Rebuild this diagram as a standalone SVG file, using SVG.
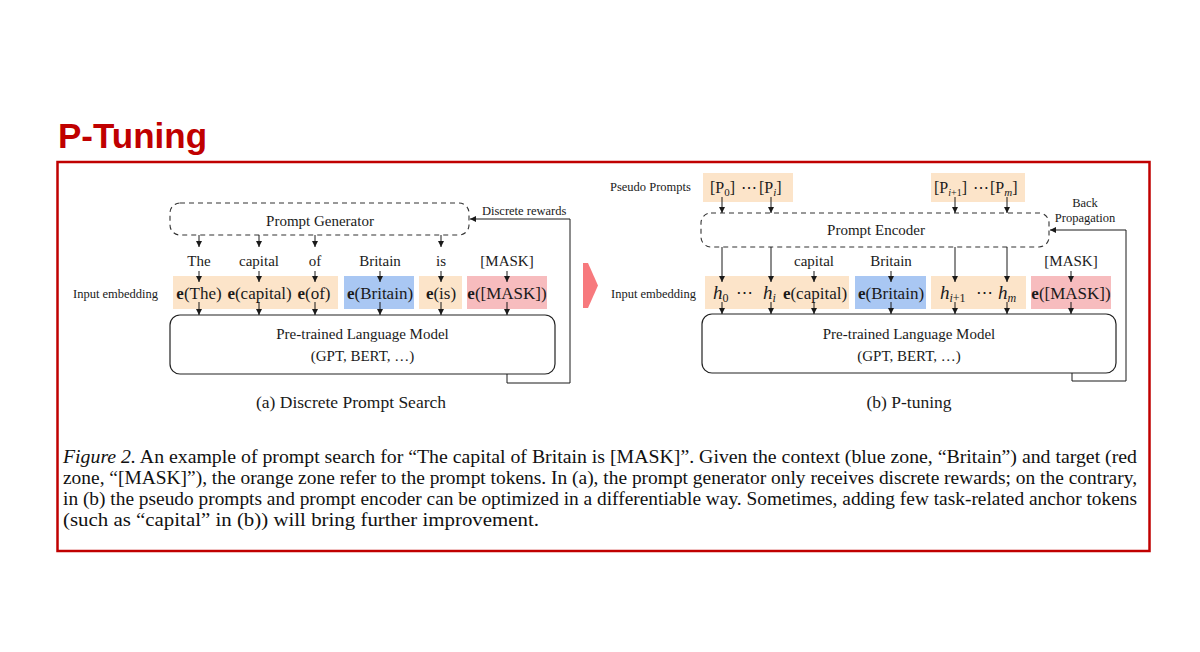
<svg xmlns="http://www.w3.org/2000/svg" width="1200" height="652" viewBox="0 0 1200 652">
<defs>
<marker id="ah" markerUnits="userSpaceOnUse" markerWidth="7" markerHeight="7" refX="6" refY="3" orient="auto">
<path d="M0,0 L6,3 L0,6 z" fill="#1a1a1a"/>
</marker>
<style>
.t{font-family:"Liberation Serif","Times New Roman",serif;fill:#1a1a1a}
.lbl{font-size:12.5px}
.w{font-size:15px;text-anchor:middle}
.em{font-size:17px;text-anchor:middle}
.big{font-size:15px;text-anchor:middle}
.cap{font-size:17.5px;text-anchor:middle}
.ar{stroke:#1a1a1a;stroke-width:1;fill:none;marker-end:url(#ah)}
.dash{fill:#fff;stroke:#333;stroke-width:1.1;stroke-dasharray:5 4}
.box{fill:#fff;stroke:#222;stroke-width:1.2}
.or{fill:#fce4c9}
.bl{fill:#a9c7f3}
.rd{fill:#f7bcbe}
.h{font-size:19px;font-style:italic}
.sub{font-size:12px;font-style:normal}
.it{font-style:italic}
.caption{font-family:"Liberation Serif","Times New Roman",serif;font-size:19.5px;fill:#111}
</style>
</defs>
<rect width="1200" height="652" fill="#fff"/>
<g id="title">
<text x="58" y="148" font-family="Liberation Sans,Arial,sans-serif" font-weight="bold" font-size="35" fill="#c00000">P-Tuning</text>
</g>
<g id="frame">
<rect x="57.5" y="162" width="1092" height="389" fill="none" stroke="#c00000" stroke-width="2.5"/>
</g>

<g id="a-labels">
<text class="t lbl" x="73" y="298">Input embedding</text>
<text class="t lbl" x="482" y="215">Discrete rewards</text>
<text class="t cap" x="351" y="408">(a) Discrete Prompt Search</text>
</g>
<g id="a-generator">
<rect class="dash" x="170" y="203" width="299" height="32" rx="10"/>
<text class="t big" x="320" y="226">Prompt Generator</text>
</g>
<g id="a-words">
<text class="t w" x="199" y="266">The</text>
<text class="t w" x="259" y="266">capital</text>
<text class="t w" x="315" y="266">of</text>
<text class="t w" x="380" y="266">Britain</text>
<text class="t w" x="441" y="266">is</text>
<text class="t w" x="507" y="266">[MASK]</text>
</g>
<g id="a-embeddings">
<rect class="or" x="173" y="276" width="165" height="33"/>
<rect class="bl" x="344" y="276" width="70" height="33"/>
<rect class="or" x="419" y="276" width="43" height="33"/>
<rect class="rd" x="467" y="276" width="80" height="33"/>
<text class="t em" x="199" y="299"><tspan font-weight="bold">e</tspan>(The)</text>
<text class="t em" x="259.5" y="299"><tspan font-weight="bold">e</tspan>(capital)</text>
<text class="t em" x="314" y="299"><tspan font-weight="bold">e</tspan>(of)</text>
<text class="t em" x="380" y="299"><tspan font-weight="bold">e</tspan>(Britain)</text>
<text class="t em" x="441" y="299"><tspan font-weight="bold">e</tspan>(is)</text>
<text class="t em" x="507" y="299"><tspan font-weight="bold">e</tspan>([MASK])</text>
</g>
<g id="a-lm">
<rect class="box" x="170" y="315" width="385" height="59" rx="10"/>
<text class="t big" x="362.5" y="339">Pre-trained Language Model</text>
<text class="t big" x="362.5" y="361">(GPT, BERT, …)</text>
</g>

<g id="pink-arrow">
<path d="M583,263 L588,263 L598,285.5 L588,308 L583,308 z" fill="#f7797d"/>
</g>

<g id="b-labels">
<text class="t lbl" x="610" y="191">Pseudo Prompts</text>
<text class="t lbl" x="611" y="298">Input embedding</text>
<text class="t lbl" x="1085" y="207" text-anchor="middle">Back</text>
<text class="t lbl" x="1085" y="222" text-anchor="middle">Propagation</text>
<text class="t cap" x="909" y="408">(b) P-tuning</text>
</g>
<g id="b-prompts">
<rect class="or" x="703" y="173" width="90" height="29"/>
<rect class="or" x="931" y="173" width="94" height="29"/>
<text class="t" font-size="16" x="710" y="193">[P<tspan font-size="11" dy="3">0</tspan><tspan dy="-3">]</tspan></text>
<text class="t" font-size="16" x="741" y="193">⋯</text>
<text class="t" font-size="16" x="759" y="193">[P<tspan class="it" font-size="11" dy="3">i</tspan><tspan dy="-3">]</tspan></text>
<text class="t" font-size="16" x="934" y="193">[P<tspan font-size="10" dy="3"><tspan class="it">i</tspan>+1</tspan><tspan dy="-3">]</tspan></text>
<text class="t" font-size="16" x="973" y="193">⋯</text>
<text class="t" font-size="16" x="990" y="193">[P<tspan class="it" font-size="11" dy="3">m</tspan><tspan dy="-3">]</tspan></text>
</g>
<g id="b-encoder">
<rect class="dash" x="701" y="213" width="348" height="34" rx="10"/>
<text class="t big" x="876" y="235">Prompt Encoder</text>
</g>
<g id="b-words">
<text class="t w" x="814" y="266">capital</text>
<text class="t w" x="891" y="266">Britain</text>
<text class="t w" x="1071" y="266">[MASK]</text>
</g>
<g id="b-embeddings">
<rect class="or" x="705" y="276" width="144" height="33"/>
<rect class="bl" x="855" y="276" width="71" height="33"/>
<rect class="or" x="931" y="276" width="95" height="33"/>
<rect class="rd" x="1031" y="276" width="80" height="33"/>
<text class="t h" x="713" y="299">h<tspan class="sub" dy="3">0</tspan></text>
<text class="t" font-size="17" x="736" y="298">⋯</text>
<text class="t h" x="763" y="299">h<tspan class="sub" style="font-style:italic" dy="3">i</tspan></text>
<text class="t em" x="815" y="299"><tspan font-weight="bold">e</tspan>(capital)</text>
<text class="t em" x="891" y="299"><tspan font-weight="bold">e</tspan>(Britain)</text>
<text class="t h" x="940" y="299">h<tspan class="sub" dy="3"><tspan style="font-style:italic">i</tspan>+1</tspan></text>
<text class="t" font-size="17" x="976" y="298">⋯</text>
<text class="t h" x="998" y="299">h<tspan class="sub" style="font-style:italic" dy="3">m</tspan></text>
<text class="t em" x="1071" y="299"><tspan font-weight="bold">e</tspan>([MASK])</text>
</g>
<g id="b-lm">
<rect class="box" x="702" y="314" width="414" height="59" rx="10"/>
<text class="t big" x="909" y="339">Pre-trained Language Model</text>
<text class="t big" x="909" y="361">(GPT, BERT, …)</text>
</g>

<g id="connectors">
<line class="ar" x1="199" y1="235" x2="199" y2="247"/>
<line class="ar" x1="259" y1="235" x2="259" y2="247"/>
<line class="ar" x1="315" y1="235" x2="315" y2="247"/>
<line class="ar" x1="441" y1="235" x2="441" y2="247"/>
<line class="ar" x1="199" y1="271" x2="199" y2="282"/>
<line class="ar" x1="259" y1="271" x2="259" y2="282"/>
<line class="ar" x1="315" y1="271" x2="315" y2="282"/>
<line class="ar" x1="380" y1="271" x2="380" y2="282"/>
<line class="ar" x1="441" y1="271" x2="441" y2="282"/>
<line class="ar" x1="507" y1="271" x2="507" y2="282"/>
<line class="ar" x1="199" y1="302" x2="199" y2="315"/>
<line class="ar" x1="259" y1="302" x2="259" y2="315"/>
<line class="ar" x1="315" y1="302" x2="315" y2="315"/>
<line class="ar" x1="380" y1="302" x2="380" y2="315"/>
<line class="ar" x1="441" y1="302" x2="441" y2="315"/>
<line class="ar" x1="507" y1="302" x2="507" y2="315"/>
<path class="ar" d="M507,374 L507,383 L570,383 L570,219 L470,219"/>
<line class="ar" x1="722" y1="197" x2="722" y2="213"/>
<line class="ar" x1="771" y1="197" x2="771" y2="213"/>
<line class="ar" x1="955" y1="197" x2="955" y2="213"/>
<line class="ar" x1="1007" y1="197" x2="1007" y2="213"/>
<line class="ar" x1="722" y1="247" x2="722" y2="282"/>
<line class="ar" x1="771" y1="247" x2="771" y2="282"/>
<line class="ar" x1="955" y1="247" x2="955" y2="282"/>
<line class="ar" x1="1007" y1="247" x2="1007" y2="282"/>
<line class="ar" x1="814" y1="271" x2="814" y2="282"/>
<line class="ar" x1="891" y1="271" x2="891" y2="282"/>
<line class="ar" x1="1071" y1="271" x2="1071" y2="282"/>
<line class="ar" x1="722" y1="302" x2="722" y2="314"/>
<line class="ar" x1="771" y1="302" x2="771" y2="314"/>
<line class="ar" x1="814" y1="302" x2="814" y2="314"/>
<line class="ar" x1="891" y1="302" x2="891" y2="314"/>
<line class="ar" x1="955" y1="302" x2="955" y2="314"/>
<line class="ar" x1="1007" y1="302" x2="1007" y2="314"/>
<line class="ar" x1="1071" y1="302" x2="1071" y2="314"/>
<path class="ar" d="M1072,373 L1072,381 L1126,381 L1126,230 L1050,230"/>
</g>

<g id="caption">
<text class="caption" x="63" y="463" textLength="1074" lengthAdjust="spacingAndGlyphs"><tspan class="it">Figure 2.</tspan> An example of prompt search for “The capital of Britain is [MASK]”. Given the context (blue zone, “Britain”) and target (red</text>
<text class="caption" x="63" y="484" textLength="1074" lengthAdjust="spacingAndGlyphs">zone, “[MASK]”), the orange zone refer to the prompt tokens. In (a), the prompt generator only receives discrete rewards; on the contrary,</text>
<text class="caption" x="63" y="505" textLength="1074" lengthAdjust="spacingAndGlyphs">in (b) the pseudo prompts and prompt encoder can be optimized in a differentiable way. Sometimes, adding few task-related anchor tokens</text>
<text class="caption" x="63" y="526" textLength="476" lengthAdjust="spacingAndGlyphs">(such as “capital” in (b)) will bring further improvement.</text>
</g>
</svg>
